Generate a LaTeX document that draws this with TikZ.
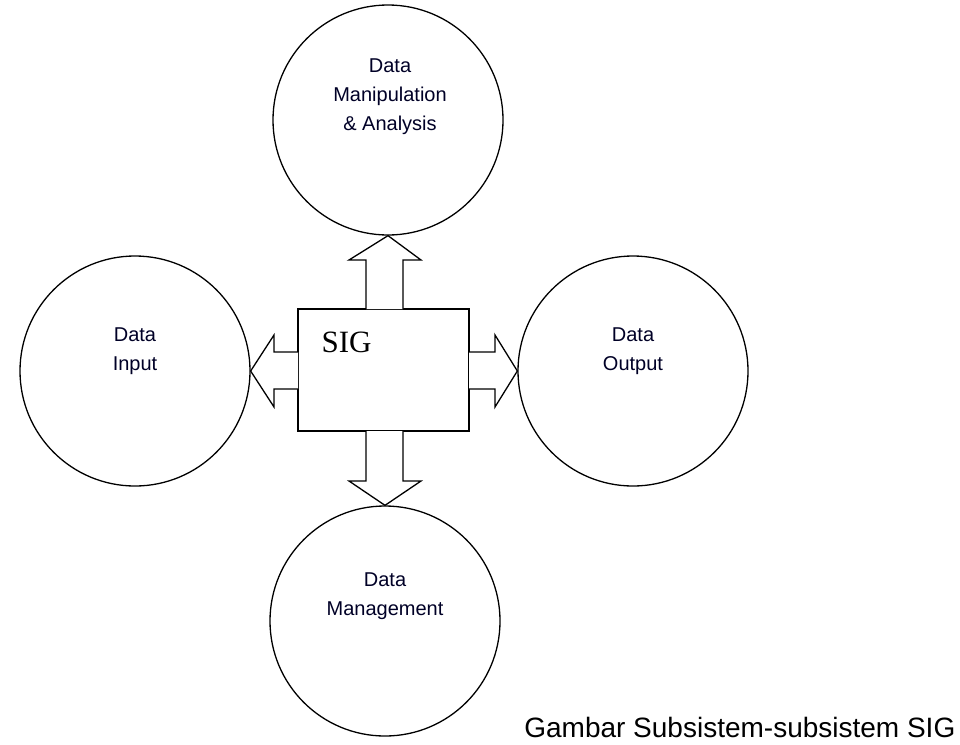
\documentclass[tikz,border=0pt]{standalone}
\usepackage{fontspec}
\setmainfont{Liberation Sans}
\newfontfamily\serifsig{Liberation Serif}
\begin{document}
\begin{tikzpicture}[x=1pt,y=-1pt,line width=1.3pt,
 circ/.style={draw,circle,minimum size=230pt,inner sep=0pt},
 txt/.style={align=center,font=\fontsize{20}{29}\selectfont,text=black!85!blue},
 arr/.style={draw,line join=miter,fill=white}]
\useasboundingbox (0,0) rectangle (960,744);
\node[circ] (top) at (388,120) {};
\node[circ] (left) at (135,371) {};
\node[circ] (right) at (633,371) {};
\node[circ] (bot) at (385,621) {};
\node[txt] (topt) at (390,97) {Data\\Manipulation\\\& Analysis};
\node[txt] (leftt) at (135,351) {Data\\Input};
\node[txt] (rightt) at (633,351) {Data\\Output};
\node[txt] (bott) at (385,596) {Data\\Management};
\node[draw,minimum width=171pt,minimum height=122pt,inner sep=0pt] (sig) at (383.5,370) {};
\node[font=\serifsig\fontsize{31}{31}\selectfont,anchor=west,inner sep=0pt] (sigt) at (321,342) {SIG};
\draw[arr] (366,309) -- (366,260) -- (349,260) -- (top.south) -- (421,260) -- (403,260) -- (403,309);
\draw[arr] (366,431) -- (366,481) -- (349,481) -- (bot.north) -- (421,481) -- (403,481) -- (403,431);
\draw[arr] (298,352) -- (274,352) -- (274,335) -- (left.east) -- (274,407) -- (274,389) -- (298,389);
\draw[arr] (469,352) -- (495,352) -- (495,335) -- (right.west) -- (495,407) -- (495,389) -- (469,389);
\node[anchor=east,font=\fontsize{28}{28}\selectfont,inner sep=0pt] (cap) at (956,727) {Gambar Subsistem-subsistem SIG};
\end{tikzpicture}
\end{document}
